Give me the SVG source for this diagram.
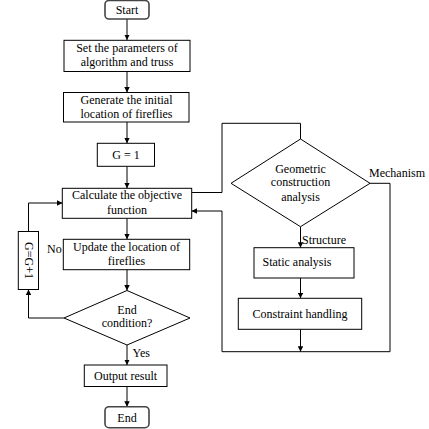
<svg xmlns="http://www.w3.org/2000/svg" width="429" height="429" viewBox="0 0 429 429">
<defs>
<style>
.box{fill:#fff;stroke:#000;stroke-width:1}
.term{fill:#fff;stroke:#444;stroke-width:1.6}
text{font-family:'Liberation Serif','Times New Roman',Times,serif;font-size:12px;fill:#000}
.t{text-anchor:middle}
.ts{text-anchor:start}
.ln{fill:none;stroke:#000;stroke-width:1}
</style>
<marker id="ah" viewBox="0 0 10 10" refX="10" refY="5" markerWidth="5.5" markerHeight="5.5" orient="auto" markerUnits="userSpaceOnUse">
<path d="M0,0 L10,5 L0,10 Z" fill="#000"/>
</marker>
</defs>
<rect width="429" height="429" fill="#fff"/>

<g id="connectors">
<path class="ln" d="M127,19 V40" marker-end="url(#ah)"/>
<path class="ln" d="M127,71.5 V92.5" marker-end="url(#ah)"/>
<path class="ln" d="M127,122 V143.3" marker-end="url(#ah)"/>
<path class="ln" d="M127,166.3 V188.3" marker-end="url(#ah)"/>
<path class="ln" d="M127,218.3 V239.3" marker-end="url(#ah)"/>
<path class="ln" d="M127,269.7 V290.5" marker-end="url(#ah)"/>
<path class="ln" d="M127,345 V365" marker-end="url(#ah)"/>
<path class="ln" d="M127,386.5 V406.7" marker-end="url(#ah)"/>
<path class="ln" d="M64,318 H28.5 V289.5" marker-end="url(#ah)"/>
<path class="ln" d="M28.5,231.5 V203 H62.3" marker-end="url(#ah)"/>
<path class="ln" d="M191.7,192.5 H222 V123.3 H300.5 V139"/>
<path class="ln" d="M300.5,226.7 V247.7" marker-end="url(#ah)"/>
<path class="ln" d="M300.5,278 V298.3" marker-end="url(#ah)"/>
<path class="ln" d="M300.5,329.3 V351.7" marker-end="url(#ah)"/>
<path class="ln" d="M370,183.3 H390 V351.7 H222 V211 H191.7" marker-end="url(#ah)"/>
</g>

<g id="start">
<rect class="term" x="105" y="0.5" width="44" height="18.5" rx="4"/>
<text class="t" x="127" y="13.5">Start</text>
</g>

<g id="set-params">
<rect class="box" x="64" y="40.3" width="126" height="31.2"/>
<text class="t" x="127" y="51.8">Set the parameters of</text>
<text class="t" x="127" y="65.8">algorithm and truss</text>
</g>

<g id="generate">
<rect class="box" x="63.5" y="92.5" width="125.5" height="29.5"/>
<text class="t" x="126.5" y="103.6">Generate the initial</text>
<text class="t" x="126.5" y="117.8">location of fireflies</text>
</g>

<g id="g-init">
<rect class="box" x="97.3" y="143.3" width="57.2" height="23"/>
<text class="t" x="126" y="159">G = 1</text>
</g>

<g id="calculate">
<rect class="box" x="62.3" y="188.3" width="129.4" height="30"/>
<text class="t" x="127" y="199.3">Calculate the objective</text>
<text class="t" x="127" y="213.6">function</text>
</g>

<g id="update">
<rect class="box" x="63.3" y="239.3" width="126.4" height="30.4"/>
<text class="t" x="126.5" y="251.2">Update the location of</text>
<text class="t" x="126.5" y="265.3">fireflies</text>
<text class="ts" x="47" y="252.5">No</text>
</g>

<g id="g-increment">
<rect class="box" x="18.3" y="231.5" width="20.2" height="58"/>
<text class="t" x="28.5" y="260.5" transform="rotate(90 28.5 260.5)" dy="4">G=G+1</text>
</g>

<g id="end-condition">
<polygon class="box" points="127,290.5 190,318 127,345 64,318"/>
<text class="t" x="127" y="313.5">End</text>
<text class="t" x="127" y="326.6">condition?</text>
<text class="ts" x="132.5" y="356.5">Yes</text>
</g>

<g id="output">
<rect class="box" x="84.3" y="365" width="82.7" height="21.5"/>
<text class="t" x="125.6" y="380">Output result</text>
</g>

<g id="end">
<rect class="term" x="105" y="406.7" width="44" height="21" rx="4"/>
<text class="t" x="127" y="421.5">End</text>
</g>

<g id="geometric">
<polygon class="box" points="300.5,139 370,183.3 300.5,226.7 231,183.3"/>
<text class="t" x="300.5" y="172.6">Geometric</text>
<text class="t" x="300.5" y="186.3">construction</text>
<text class="t" x="300.5" y="200.8">analysis</text>
<text class="ts" x="369" y="177.3">Mechanism</text>
<text class="ts" x="302" y="244.3">Structure</text>
</g>

<g id="static">
<rect class="box" x="254" y="247.7" width="100" height="30.3"/>
<text class="t" x="297" y="266.2">Static analysis</text>
</g>

<g id="constraint">
<rect class="box" x="238.3" y="298.3" width="123.4" height="31"/>
<text class="t" x="300" y="317.6">Constraint handling</text>
</g>
</svg>
